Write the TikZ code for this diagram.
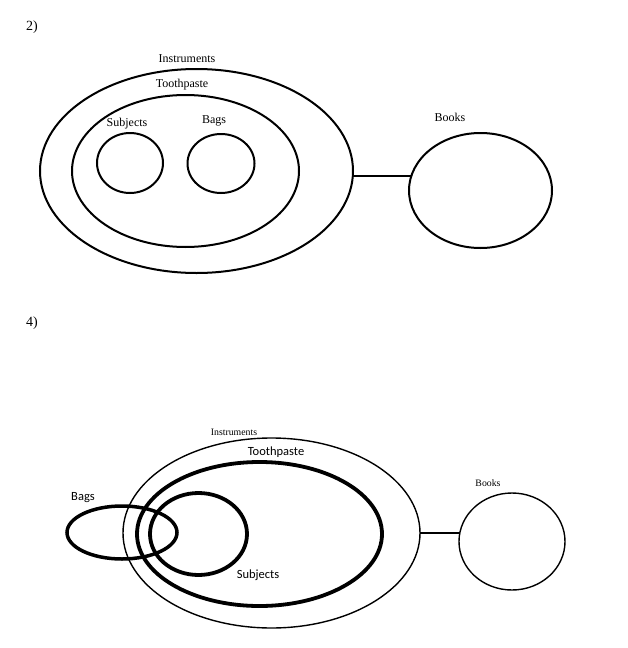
\documentclass[tikz,border=0pt]{standalone}
\usepackage{fontspec}
\setmainfont{Liberation Serif}
\newfontfamily\calibri{Carlito}
\usetikzlibrary{shapes.geometric}

\begin{document}
\begin{tikzpicture}[x=1pt, y=-1pt,
	set/.style={draw, ellipse, inner sep=0pt, outer sep=0pt, line width=2pt},
	thickset/.style={set, line width=3.8pt},
	thinset/.style={set, line width=1.4pt},
	lbl/.style={inner sep=0pt, font=\fontsize{12}{14}\selectfont},
	small/.style={inner sep=0pt, font=\fontsize{9.8}{12}\selectfont},
	sans/.style={inner sep=0pt, font=\calibri\fontsize{12.5}{15}\selectfont}]
\fill[white] (0,0) rectangle (627,648);
\useasboundingbox (0,0) rectangle (627,648);
% 2)
\node[lbl, font=\fontsize{14}{16}\selectfont] (num2) at (32,27) {2)};
\node[set, minimum width=313pt, minimum height=204pt] (instr2) at (196.5,171) {};
\node[set, minimum width=227pt, minimum height=152pt] (tooth2) at (185.5,171) {};
\node[set, minimum width=66pt, minimum height=60pt] (subj2) at (130,163) {};
\node[set, minimum width=67pt, minimum height=59pt] (bags2) at (221,163.5) {};
\node[set, minimum width=143pt, minimum height=115pt] (books2) at (480.5,190.5) {};
\draw[line width=2pt] (instr2.-2) -- (books2.169 |- instr2.-2);
\node[lbl] (linstr2) at (187,59) {Instruments};
\node[lbl] (ltooth2) at (182,85) {Toothpaste};
\node[lbl] (lsubj2) at (127,124) {Subjects};
\node[lbl] (lbags2) at (214,121) {Bags};
\node[lbl] (lbooks2) at (450,117) {Books};
% 4)
\node[lbl, font=\fontsize{14}{16}\selectfont] (num4) at (32,323) {4)};
\node[thinset, minimum width=297pt, minimum height=190pt] (instr4) at (271.5,533) {};
\node[thickset, minimum width=245pt, minimum height=144pt] (tooth4) at (259.5,534) {};
\node[thickset, minimum width=97pt, minimum height=82pt] (subj4) at (198.5,534) {};
\node[thickset, line width=3.5pt, minimum width=110pt, minimum height=53pt] (bags4) at (122,532.5) {};
\node[thinset, minimum width=106pt, minimum height=97pt] (books4) at (512,541.5) {};
\draw[line width=1.4pt] (instr4.0) -- (books4.172 |- instr4.0);
\node[small] (linstr4) at (234,432) {Instruments};
\node[sans] (ltooth4) at (276,452) {Toothpaste};
\node[sans] (lsubj4) at (258,575) {Subjects};
\node[sans] (lbags4) at (83,498) {Bags};
\node[small] (lbooks4) at (488,483) {Books};
\end{tikzpicture}
\end{document}
